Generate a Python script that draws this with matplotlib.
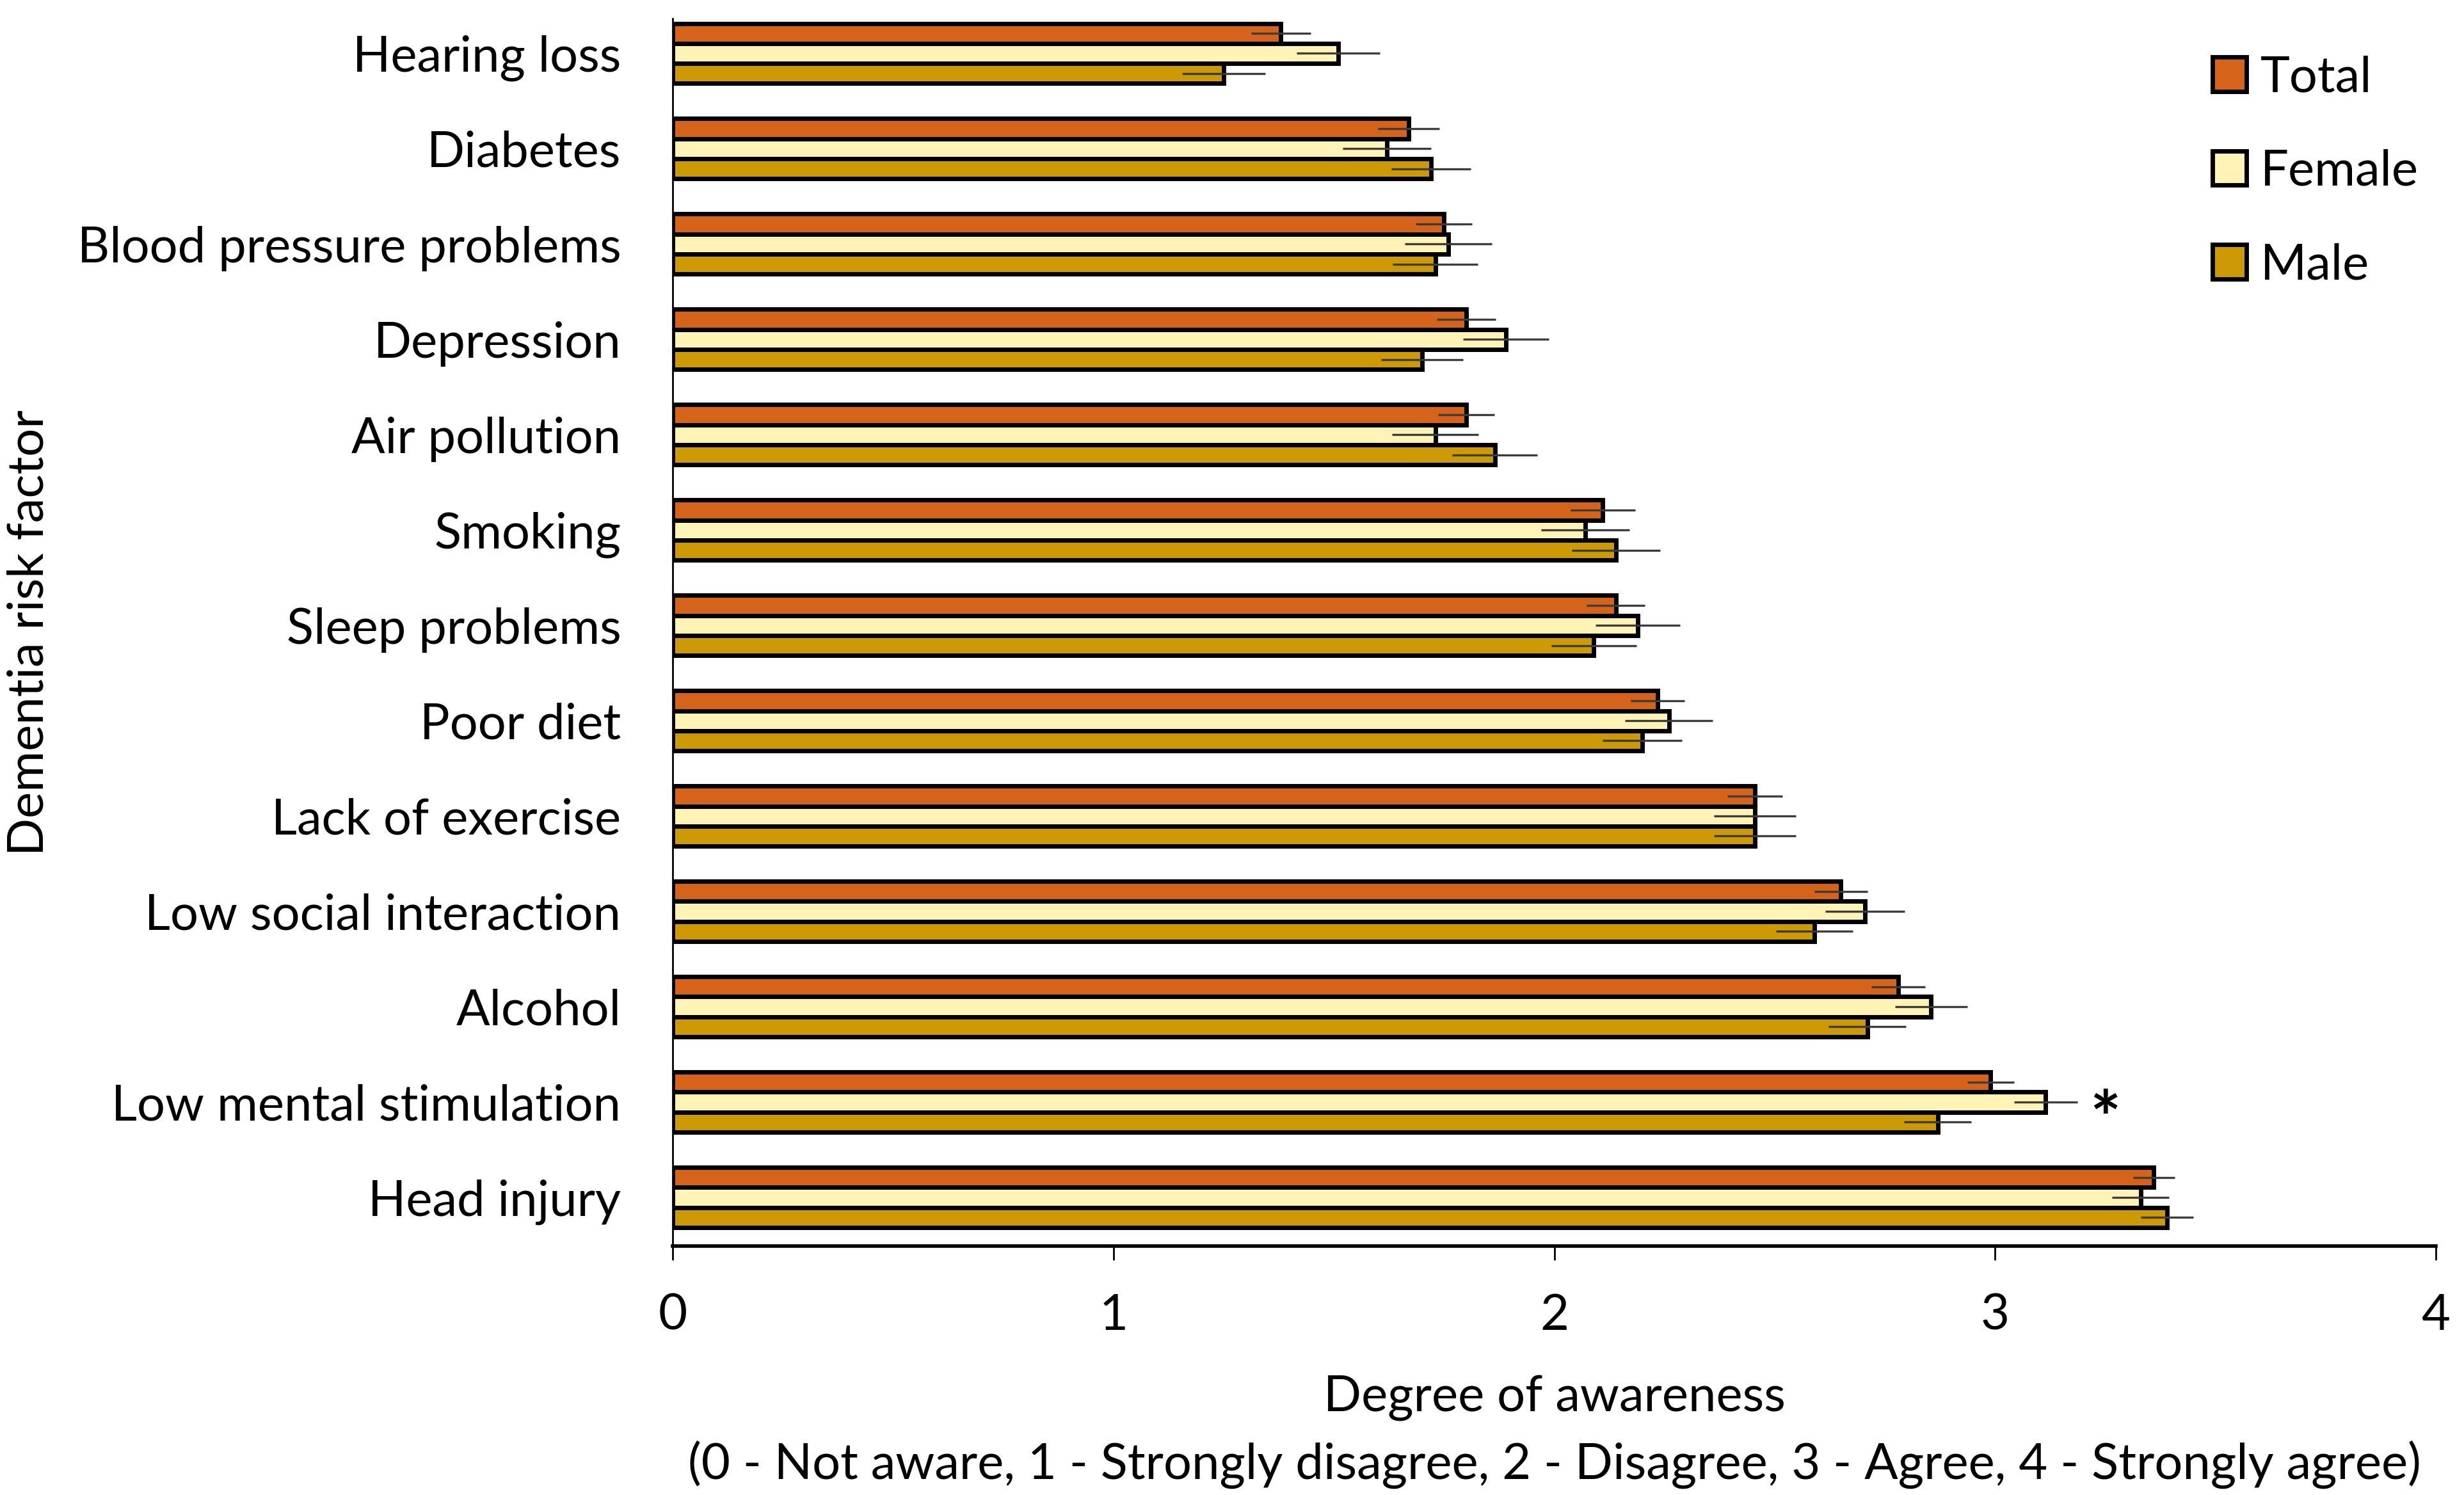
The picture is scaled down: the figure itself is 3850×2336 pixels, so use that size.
import numpy as np
import matplotlib
matplotlib.use("Agg")
import matplotlib.pyplot as plt

# ---- data ----
categories = ["Hearing loss", "Diabetes", "Blood pressure problems", "Depression",
              "Air pollution", "Smoking", "Sleep problems", "Poor diet",
              "Lack of exercise", "Low social interaction", "Alcohol",
              "Low mental stimulation", "Head injury"]
series_names = ["Total", "Female", "Male"]
total = [1.38, 1.67, 1.75, 1.80, 1.80, 2.11, 2.14, 2.235, 2.455, 2.65, 2.78, 2.99, 3.36]
female = [1.51, 1.62, 1.76, 1.89, 1.73, 2.07, 2.19, 2.26, 2.455, 2.705, 2.855, 3.115, 3.33]
male = [1.25, 1.72, 1.73, 1.70, 1.865, 2.14, 2.09, 2.20, 2.455, 2.59, 2.71, 2.87, 3.39]
total_err = [0.067, 0.07, 0.064, 0.067, 0.064, 0.073, 0.066, 0.061, 0.062, 0.06, 0.061, 0.053, 0.047]
female_err = [0.094, 0.10, 0.099, 0.097, 0.098, 0.10, 0.096, 0.099, 0.093, 0.09, 0.082, 0.072, 0.064]
male_err = [0.094, 0.09, 0.096, 0.093, 0.097, 0.10, 0.097, 0.09, 0.093, 0.087, 0.088, 0.076, 0.06]
xticks = [0, 1, 2, 3, 4]
sig_category = "Low mental stimulation"
sig_x = 3.25

# ---- style ----
plt.rcParams['font.family'] = ['Lato', 'DejaVu Sans']
FS = 56
colors = ['#D5631A', '#FFF4B5', '#CD9A05']

fig = plt.figure(figsize=(38.5, 23.36), dpi=100)
ax = fig.add_axes([1051/3850, 1 - 1947/2336, (3806-1051)/3850, (1947-29.5)/2336])

y = np.arange(len(categories))
h = 0.21
offsets = [-h, 0, h]
vals = [total, female, male]
errs = [total_err, female_err, male_err]
for name, v, off, c in zip(series_names, vals, offsets, colors):
    ax.barh(y + off, v, height=h, color=c, edgecolor='black', linewidth=5.0,
            label=name, zorder=2)
for v, e, off in zip(vals, errs, offsets):
    ax.errorbar(v, y + off, xerr=e, fmt='none', ecolor='#3c3c3c',
                elinewidth=2.4, capsize=0, zorder=3)

ax.set_ylim(12.51, -0.362)
ax.set_xlim(0, 4)
ax.set_yticks(y)
ax.set_yticklabels(categories, fontsize=FS)
ax.set_xticks(xticks)
ax.set_xticklabels([str(t) for t in xticks], fontsize=FS)
ax.tick_params(axis='y', length=0, pad=58)
ax.tick_params(axis='x', length=16, width=2.0, pad=37, direction='out')

for s in ['top', 'right']:
    ax.spines[s].set_visible(False)
ax.spines['left'].set_linewidth(2.0)
ax.spines['bottom'].set_linewidth(4.0)

# significance marker
si = categories.index(sig_category)
ax.text(sig_x, si + 0.22, "*", fontsize=82, fontweight='bold', ha='center',
        va='center', color='black')

ax.set_xlabel("Degree of awareness\n(0 - Not aware, 1 - Strongly disagree, 2 - Disagree, 3 - Agree, 4 - Strongly agree)",
              fontsize=FS, linespacing=1.49, labelpad=41)
ax.set_ylabel("Dementia risk factor", fontsize=FS)
ax.yaxis.set_label_coords(-0.352, 0.5)

leg = ax.legend(loc='upper left', bbox_to_anchor=(3457/3850, 0.963),
                bbox_transform=fig.transFigure, frameon=False, fontsize=FS,
                handlelength=0.68, handleheight=0.68, handletextpad=0.28,
                labelspacing=0.97, borderpad=0, borderaxespad=0)
for p in leg.get_patches():
    p.set_linewidth(5.0)

fig.savefig("out.png", dpi=100, facecolor='white')
